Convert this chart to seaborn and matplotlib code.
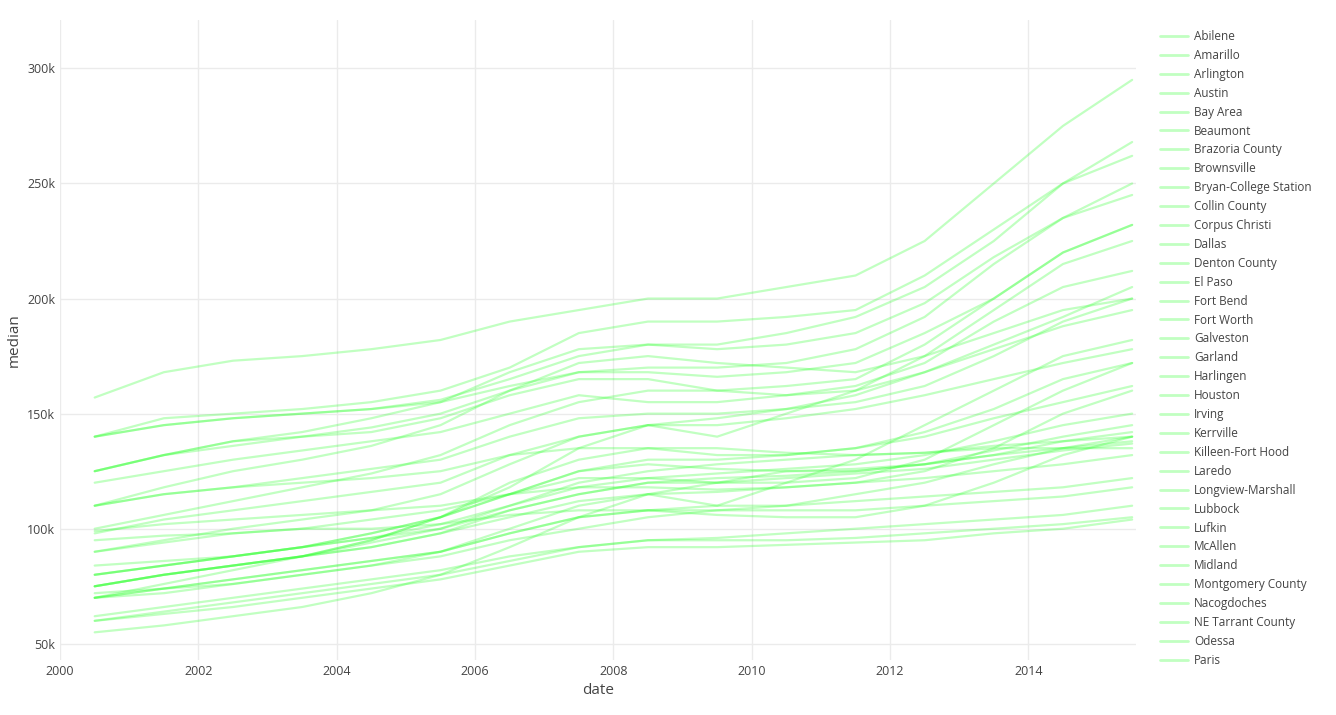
import matplotlib
matplotlib.use("Agg")
import matplotlib.pyplot as plt
import matplotlib.ticker as mt
import seaborn as sns
import pandas as pd

years = list(range(2000, 2016))
cities = ["Abilene","Amarillo","Arlington","Austin","Bay Area","Beaumont","Brazoria County",
          "Brownsville","Bryan-College Station","Collin County","Corpus Christi","Dallas",
          "Denton County","El Paso","Fort Bend","Fort Worth","Galveston","Garland","Harlingen",
          "Houston","Irving","Kerrville","Killeen-Fort Hood","Laredo","Longview-Marshall",
          "Lubbock","Lufkin","McAllen","Midland","Montgomery County","Nacogdoches",
          "NE Tarrant County","Odessa","Paris"]
abilene      = [72,74,76,80,84,88,95,100,105,108,110,115,120,128,135,140]
amarillo     = [84,86,88,92,96,100,108,115,120,122,123,125,128,134,140,145]
arlington    = [99,102,104,106,108,110,115,118,118,117,118,120,125,135,150,160]
austin       = [140,148,150,152,155,160,170,185,190,190,192,195,210,230,250,262]
bay_area     = [110,115,118,122,126,130,140,148,150,150,152,155,162,175,190,200]
beaumont     = [70,72,76,80,84,90,100,110,115,120,125,125,128,132,138,142]
brazoria     = [98,104,108,112,116,120,132,140,145,148,152,158,168,180,192,205]
brownsville  = [62,66,70,74,78,82,88,92,95,95,95,96,98,100,102,105]
bryan        = [90,95,100,104,108,115,128,140,145,145,148,152,158,165,172,178]
collin       = [157,168,173,175,178,182,190,195,200,200,205,210,225,250,275,295]
corpus       = [80,84,88,92,98,105,115,125,130,130,132,135,140,148,155,162]
dallas       = [125,132,138,140,142,148,158,165,165,160,162,165,180,200,220,232]
denton       = [140,145,148,150,152,155,162,168,170,170,172,178,192,215,235,250]
el_paso      = [75,80,84,88,95,105,120,130,135,135,133,132,133,136,138,140]
fort_bend    = [140,145,148,150,152,156,165,175,180,180,185,192,205,225,250,268]
fort_worth   = [90,94,98,100,104,108,115,122,122,120,120,122,130,145,160,172]
galveston    = [100,106,112,118,124,132,145,155,160,160,158,160,168,178,188,195]
garland      = [95,97,98,100,100,102,106,108,108,106,105,105,110,120,132,140]
harlingen    = [60,63,66,70,74,78,84,90,92,92,93,94,95,98,100,104]
houston      = [120,125,130,134,138,142,150,158,155,155,158,162,172,190,205,212]
irving       = [110,115,118,120,122,125,132,135,135,132,132,135,142,152,165,172]
kerrville    = [110,118,125,130,136,145,160,172,175,172,170,168,175,185,195,200]
killeen      = [75,80,84,88,94,100,110,120,125,128,130,132,133,135,135,135]
laredo       = [80,84,88,92,98,105,115,125,128,126,125,126,128,132,135,138]
longview     = [75,80,84,88,92,98,108,115,120,120,122,124,126,130,134,137]
lubbock      = [80,84,88,92,96,102,110,118,122,124,126,128,132,138,145,150]
lufkin       = [70,74,78,82,86,90,98,105,108,110,110,112,114,116,118,122]
mcallen      = [70,74,78,82,86,90,98,105,108,108,108,108,110,112,114,118]
midland      = [70,76,82,88,95,105,118,135,145,140,150,160,175,195,215,225]
montgomery   = [125,132,138,142,148,155,168,178,180,178,180,185,198,218,235,245]
nacogdoches  = [75,80,84,88,92,98,105,112,115,116,118,120,122,125,128,132]
ne_tarrant   = [125,132,136,140,144,150,160,168,168,166,168,172,185,200,220,232]
odessa       = [55,58,62,66,72,80,92,105,115,110,120,130,145,160,175,182]
paris        = [60,64,68,72,76,80,86,92,95,96,98,100,102,104,106,110]

series = [abilene,amarillo,arlington,austin,bay_area,beaumont,brazoria,brownsville,bryan,
          collin,corpus,dallas,denton,el_paso,fort_bend,fort_worth,galveston,garland,
          harlingen,houston,irving,kerrville,killeen,laredo,longview,lubbock,lufkin,mcallen,
          midland,montgomery,nacogdoches,ne_tarrant,odessa,paris]

rows = []
for c, vals in zip(cities, series):
    for y, v in zip(years, vals):
        rows.append({"city": c, "date": y + 0.5, "median": v * 1000})
df = pd.DataFrame(rows)

sns.set_theme(style="white")
plt.rcParams["font.family"] = ["Open Sans", "DejaVu Sans"]
fig = plt.figure(figsize=(13.36, 7.15), dpi=100)
ax = fig.add_axes([0.045, 0.077, 0.805, 0.895])
col = "#33ff33"
sns.lineplot(data=df, x="date", y="median", hue="city", hue_order=cities,
             palette=[col] * len(cities), alpha=0.3, linewidth=1.6, ax=ax, legend=False)
ax.set_xlim(2000, 2015.55)
ax.set_ylim(43000, 321000)
ax.set_xticks(range(2000, 2015, 2))
ax.set_yticks([50000, 100000, 150000, 200000, 250000, 300000])
ax.yaxis.set_major_formatter(mt.FuncFormatter(lambda v, p: f"{int(v/1000)}k"))
ax.grid(True, color="#ebebeb", linewidth=1)
for s in ax.spines.values():
    s.set_visible(False)
ax.tick_params(colors="#444444", labelsize=9, length=0)
ax.set_xlabel("date", color="#444444", fontsize=11)
ax.set_ylabel("median", color="#444444", fontsize=11)
handles = [plt.Line2D([], [], color=col, alpha=0.3, linewidth=2) for _ in cities]
leg = fig.legend(handles, cities, loc="upper left", bbox_to_anchor=(0.868, 0.958),
                 frameon=False, fontsize=8.5, labelspacing=0.5, handlelength=2.4,
                 handletextpad=0.5, borderaxespad=0, borderpad=0)
for t in leg.get_texts():
    t.set_color("#444444")
fig.savefig("out.png", dpi=100)
